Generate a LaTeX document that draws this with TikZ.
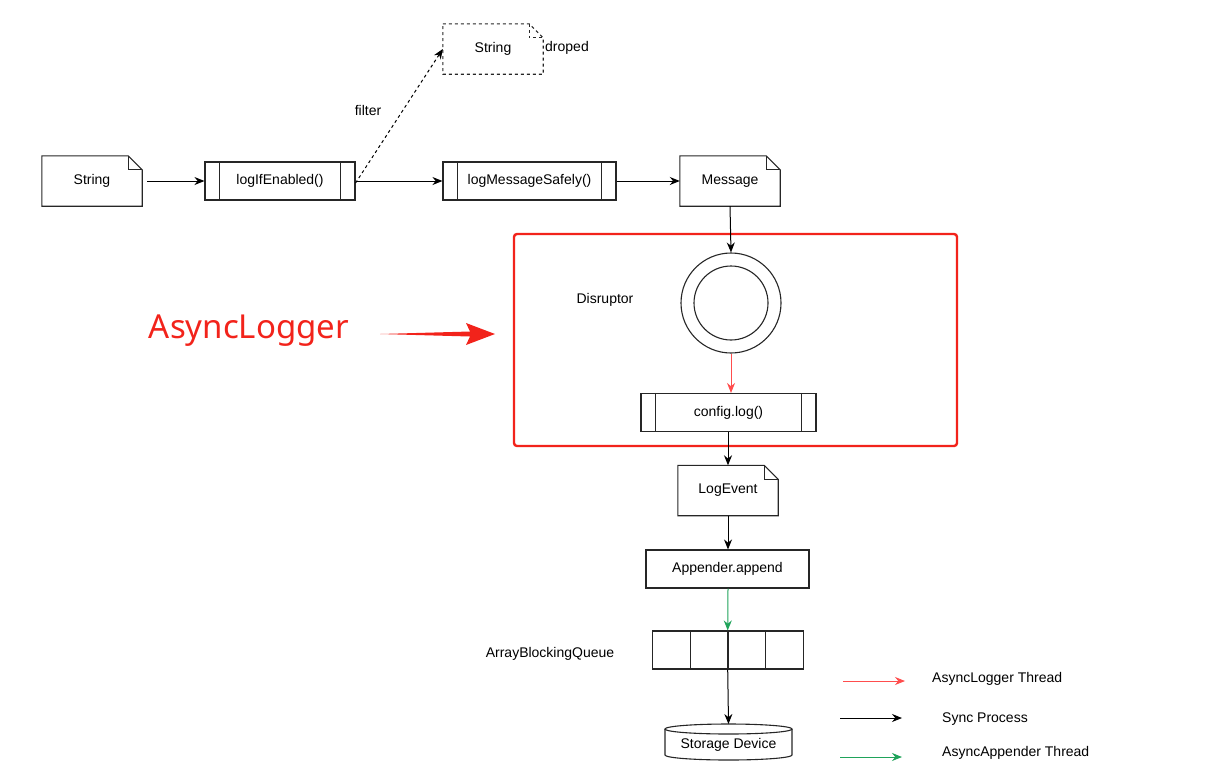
\documentclass[tikz,border=0pt]{standalone}
\usepackage{fontspec}
\setmainfont{Liberation Sans}
\newfontfamily\notos{Noto Sans}
\usetikzlibrary{arrows.meta}
\definecolor{lred}{HTML}{FF4D4D}
\definecolor{lgreen}{HTML}{1FA35A}
\definecolor{bred}{HTML}{F2231B}
\tikzset{
  ln/.style={draw=black!85, line width=1.1pt},
  arr/.style={-{Stealth[length=10pt,width=8pt]}, line width=1pt},
  lbl/.style={font=\fontsize{14}{16}\selectfont, inner sep=0pt},
  box/.style={ln, rectangle, minimum height=38pt, font=\fontsize{14}{16}\selectfont, inner sep=0pt},
}
\newcommand{\mydoc}[6][]{% style, name, x, y, text
  \node[lbl, minimum width=100pt, minimum height=50pt] (#2) at (#3,#4) {#5};
  \draw[ln,#1] (#2.north west) -- ([xshift=-14pt]#2.north east) -- ([yshift=-14pt]#2.north east) -- (#2.south east) -- (#2.south west) -- cycle;
  \draw[ln,#1] ([xshift=-14pt]#2.north east) -- ++(0,-14pt) -- ([yshift=-14pt]#2.north east);#6}
\newcommand{\myproc}[5]{% name x y width text
  \node[box, minimum width=#4pt] (#1) at (#2,#3) {#5};
  \draw[ln] ([xshift=15pt]#1.north west) -- ([xshift=15pt]#1.south west);
  \draw[ln] ([xshift=-15pt]#1.north east) -- ([xshift=-15pt]#1.south east);}
\begin{document}
\begin{tikzpicture}[x=1pt,y=-1pt]
\useasboundingbox (0,0) rectangle (1230,769);
\mydoc{s1}{92}{181}{String}{}
\myproc{lie}{280}{181}{150}{logIfEnabled()}
\myproc{lms}{529.5}{181}{173}{logMessageSafely()}
\mydoc{msg}{730}{181}{Message}{}
\mydoc[dashed]{s2}{493}{49}{String}{}
\node[lbl] (drop) at (567,48) {droped};
\node[lbl] (flt) at (368,110) {filter};
\draw[arr] ([xshift=5pt]s1.east) -- (lie.west);
\draw[arr] (lie.east) -- (lms.west);
\draw[arr] (lms.east) -- (msg.west);
\draw[arr, dashed] ([yshift=-2pt]lie.east) -- (s2.west);
% red frame
\node[draw=bred, line width=2.4pt, rounded corners=3pt, minimum width=443pt, minimum height=212pt] (frame) at (735.5,340) {};
\node[circle, ln, minimum size=100pt] (dis) at (731,303) {};
\node[circle, ln, minimum size=74pt] (disin) at (731,303) {};
\node[lbl] (dlab) at (605,300) {Disruptor};
\draw[arr] (msg.south) -- (dis.north);
\myproc{cfg}{728.5}{412.5}{175}{config.log()}
\draw[arr, lred] (dis.south) -- (cfg.north -| dis.south);
\node[font=\notos\fontsize{33}{38}\selectfont, text=bred] (al) at (249,331) {AsyncLogger};
\coordinate (at1) at (380,334);
\fill[bred] (at1) -- (470,331.5) -- (466,323) -- (495,334) -- (466,345) -- (470,336.5) -- cycle;
\mydoc{le}{728}{490.5}{LogEvent}{}
\draw[arr] (cfg.south -| le.north) -- (le.north);
\node[box, minimum width=163pt] (app) at (727.5,569) {Appender.append};
\draw[arr] (le.south) -- (app.north -| le.south);
% queue
\foreach \i/\x in {1/671.5,2/709,3/747,4/784.5}{
  \node[ln, rectangle, minimum height=38pt, minimum width=37.5pt, inner sep=0pt] (q\i) at (\x,650) {};}
\node[lbl] (qlab) at (550,654) {ArrayBlockingQueue};
\draw[arr, lgreen] (app.south -| le.south) -- (q3.north west);
% cylinder
\node[lbl, minimum width=127pt, minimum height=32pt] (sd) at (728.5,745) {Storage Device};
\draw[ln] (665,729) -- (665,755) arc[start angle=180,end angle=360,x radius=63.5pt,y radius=5pt] -- (792,729);
\draw[ln] (728.5,729) ellipse[x radius=63.5pt,y radius=5pt];
\draw[arr] (q3.south west) -- (728.5,724);
% legend
\coordinate (l1a) at (843,681); \coordinate (l1b) at (905,681);
\coordinate (l2a) at (840,718); \coordinate (l2b) at (902,718);
\coordinate (l3a) at (840,757); \coordinate (l3b) at (902,757);
\draw[arr, lred] (l1a) -- (l1b);
\draw[arr] (l2a) -- (l2b);
\draw[arr, lgreen] (l3a) -- (l3b);
\node[lbl, anchor=west] (t1) at (932,679) {AsyncLogger Thread};
\node[lbl, anchor=west] (t2) at (942,719) {Sync Process};
\node[lbl, anchor=west] (t3) at (942,753) {AsyncAppender Thread};
\end{tikzpicture}
\end{document}
